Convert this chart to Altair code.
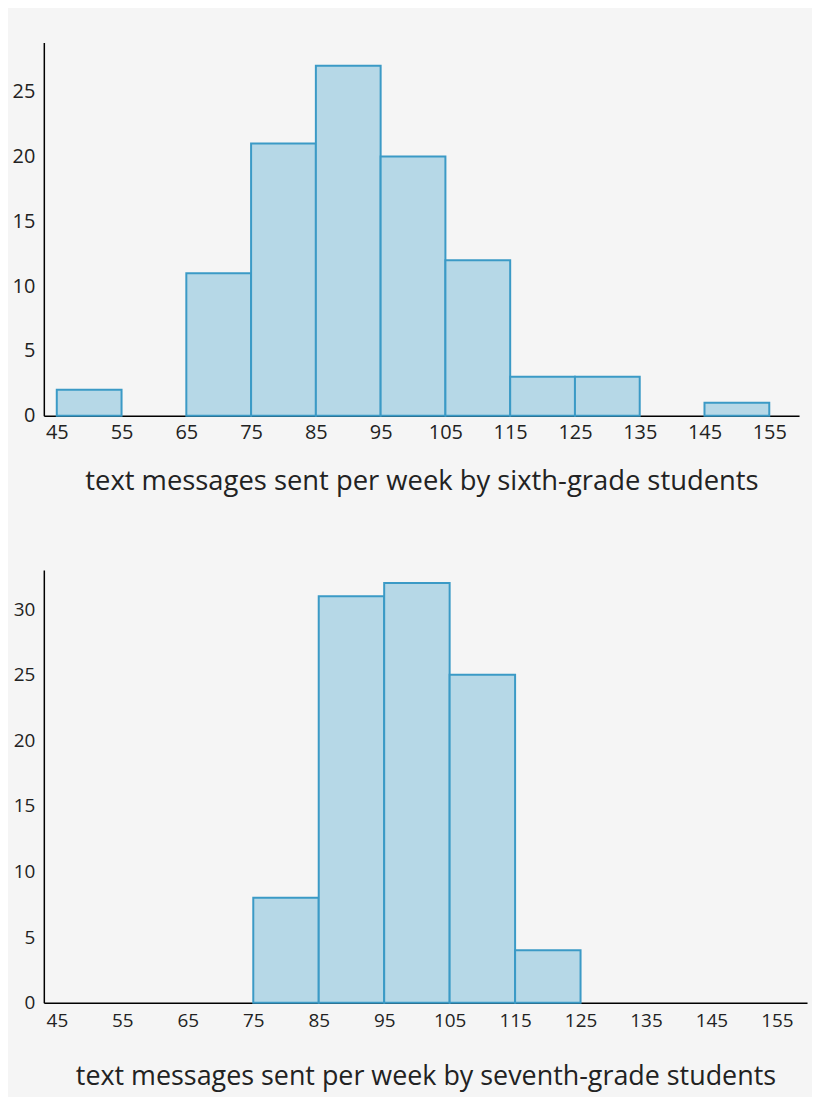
import altair as alt
import pandas as pd

bin_start = [45, 55, 65, 75, 85, 95, 105, 115, 125, 135, 145]
sixth_counts = [2, 0, 11, 21, 27, 20, 12, 3, 3, 0, 1]
seventh_counts = [0, 0, 0, 8, 31, 32, 25, 4, 0, 0, 0]
x_ticks = [45, 55, 65, 75, 85, 95, 105, 115, 125, 135, 145, 155]

FILL = '#b6d8e7'
STROKE = '#3b9ac6'
FONT = 'Open Sans'


def make_df(counts):
    df = pd.DataFrame({'start': bin_start, 'count': counts})
    df['end'] = df['start'] + 10
    return df[df['count'] > 0]


def hist(counts, title, ymax, yticks, w, h, label_size, label_pad, title_size, title_pad):
    return alt.Chart(make_df(counts)).mark_rect(
        fill=FILL, stroke=STROKE, strokeWidth=2
    ).encode(
        x=alt.X('start:Q',
                scale=alt.Scale(domain=[43, 159.6], nice=False, zero=False),
                axis=alt.Axis(values=x_ticks, title=title, grid=False, ticks=False,
                              domainColor='#000', domainWidth=1.5,
                              labelFontSize=label_size, labelColor='#222', labelFont=FONT,
                              labelPadding=label_pad, labelFlush=False,
                              titleFontSize=title_size, titleFont=FONT,
                              titleFontWeight='normal', titleColor='#222',
                              titlePadding=title_pad)),
        x2='end:Q',
        y=alt.Y('count:Q',
                scale=alt.Scale(domain=[0, ymax], nice=False),
                axis=alt.Axis(values=yticks, title=None, grid=False, ticks=False,
                              domainColor='#000', domainWidth=1.5,
                              labelFontSize=label_size, labelColor='#222', labelFont=FONT,
                              labelPadding=9)),
        y2=alt.datum(0),
    ).properties(width=w, height=h)


top = hist(sixth_counts, 'text messages sent per week by sixth-grade students',
           28.8, [0, 5, 10, 15, 20, 25], 759, 375, 20, 7, 27.5, 25)
bottom = hist(seventh_counts, 'text messages sent per week by seventh-grade students',
              33, [0, 5, 10, 15, 20, 25, 30], 767, 435, 19, 9, 27, 33)

chart = alt.vconcat(top, bottom, spacing=75).properties(
    background='#f5f5f5',
    padding={'left': 4, 'top': 32, 'right': 5, 'bottom': 5},
).configure_view(stroke=None)

chart.save("out.html", embed_options={"renderer": "svg", "actions": False})
